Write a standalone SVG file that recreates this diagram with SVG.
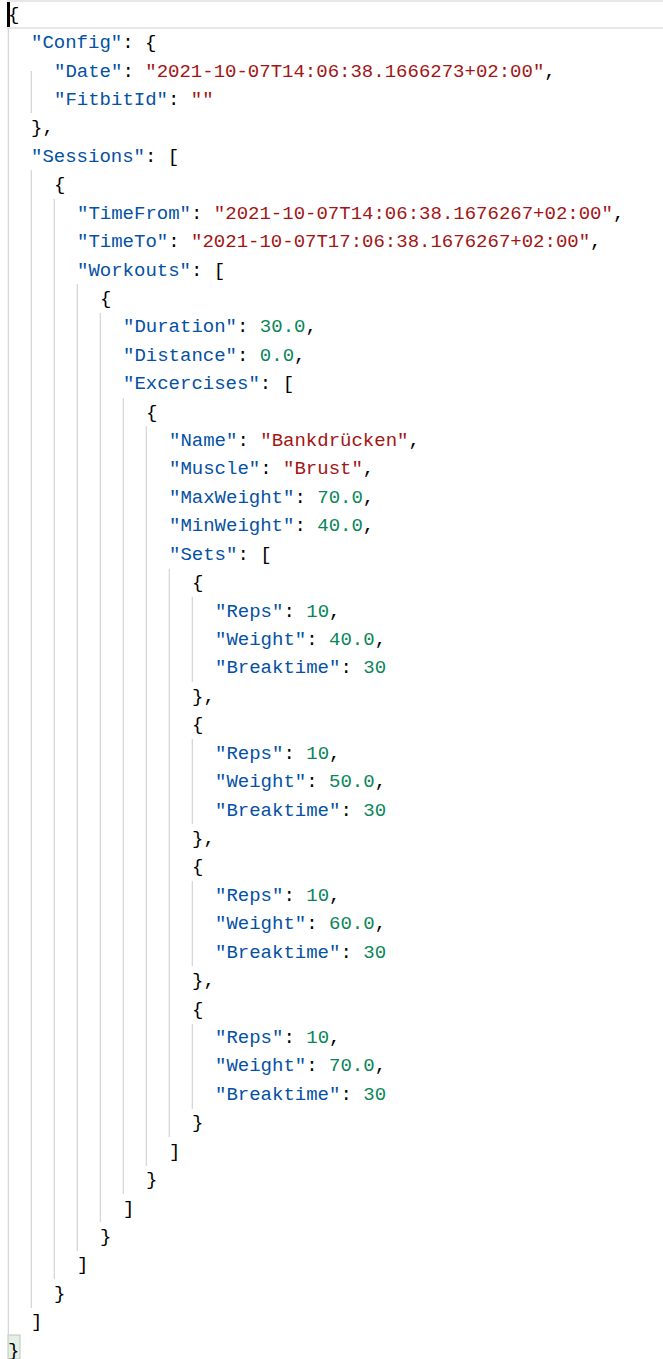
<svg xmlns="http://www.w3.org/2000/svg" width="663" height="1359" viewBox="0 0 663 1359">
<style>
text{font-family:"Liberation Mono","DejaVu Sans Mono",monospace;font-size:19px;fill:#000;white-space:pre}
.k{fill:#0451a5}.s{fill:#a31515}.n{fill:#098658}
.g{stroke:#d3d3d3;stroke-width:1.2}
</style>
<rect width="663" height="1359" fill="#fff"/>
<rect x="8" y="1" width="660" height="27" fill="none" stroke="#e8e8e8" stroke-width="2"/>
<rect x="8" y="1335" width="12" height="24" fill="#e6efe6" stroke="#b9c7b9" stroke-width="1"/>
<g id="guides">
<line class="g" x1="8.3" y1="28" x2="8.3" y2="1336"/>
<line class="g" x1="31.3" y1="71" x2="31.3" y2="113"/>
<line class="g" x1="31.3" y1="170" x2="31.3" y2="1308"/>
<line class="g" x1="54.3" y1="199" x2="54.3" y2="1279"/>
<line class="g" x1="77.3" y1="284" x2="77.3" y2="1251"/>
<line class="g" x1="100.3" y1="313" x2="100.3" y2="1222"/>
<line class="g" x1="123.3" y1="398" x2="123.3" y2="1194"/>
<line class="g" x1="146.3" y1="426" x2="146.3" y2="1166"/>
<line class="g" x1="169.3" y1="569" x2="169.3" y2="1137"/>
<line class="g" x1="192.3" y1="597" x2="192.3" y2="682"/>
<line class="g" x1="192.3" y1="739" x2="192.3" y2="824"/>
<line class="g" x1="192.3" y1="881" x2="192.3" y2="966"/>
<line class="g" x1="192.3" y1="1024" x2="192.3" y2="1109"/>
</g>
<rect x="7" y="2" width="3" height="25" fill="#000"/>
<g id="code" xml:space="preserve">
<text x="8" y="20">{</text>
<text x="31" y="48"><tspan class="k">"Config"</tspan>: {</text>
<text x="54" y="77"><tspan class="k">"Date"</tspan>: <tspan class="s">"2021-10-07T14:06:38.1666273+02:00"</tspan>,</text>
<text x="54" y="105"><tspan class="k">"FitbitId"</tspan>: <tspan class="s">""</tspan></text>
<text x="31" y="133">},</text>
<text x="31" y="162"><tspan class="k">"Sessions"</tspan>: [</text>
<text x="54" y="190">{</text>
<text x="77" y="219"><tspan class="k">"TimeFrom"</tspan>: <tspan class="s">"2021-10-07T14:06:38.1676267+02:00"</tspan>,</text>
<text x="77" y="247"><tspan class="k">"TimeTo"</tspan>: <tspan class="s">"2021-10-07T17:06:38.1676267+02:00"</tspan>,</text>
<text x="77" y="276"><tspan class="k">"Workouts"</tspan>: [</text>
<text x="100" y="304">{</text>
<text x="123" y="332"><tspan class="k">"Duration"</tspan>: <tspan class="n">30.0</tspan>,</text>
<text x="123" y="361"><tspan class="k">"Distance"</tspan>: <tspan class="n">0.0</tspan>,</text>
<text x="123" y="389"><tspan class="k">"Excercises"</tspan>: [</text>
<text x="146" y="418">{</text>
<text x="169" y="446"><tspan class="k">"Name"</tspan>: <tspan class="s">"Bankdrücken"</tspan>,</text>
<text x="169" y="474"><tspan class="k">"Muscle"</tspan>: <tspan class="s">"Brust"</tspan>,</text>
<text x="169" y="503"><tspan class="k">"MaxWeight"</tspan>: <tspan class="n">70.0</tspan>,</text>
<text x="169" y="531"><tspan class="k">"MinWeight"</tspan>: <tspan class="n">40.0</tspan>,</text>
<text x="169" y="560"><tspan class="k">"Sets"</tspan>: [</text>
<text x="192" y="588">{</text>
<text x="215" y="617"><tspan class="k">"Reps"</tspan>: <tspan class="n">10</tspan>,</text>
<text x="215" y="645"><tspan class="k">"Weight"</tspan>: <tspan class="n">40.0</tspan>,</text>
<text x="215" y="673"><tspan class="k">"Breaktime"</tspan>: <tspan class="n">30</tspan></text>
<text x="192" y="702">},</text>
<text x="192" y="730">{</text>
<text x="215" y="759"><tspan class="k">"Reps"</tspan>: <tspan class="n">10</tspan>,</text>
<text x="215" y="787"><tspan class="k">"Weight"</tspan>: <tspan class="n">50.0</tspan>,</text>
<text x="215" y="816"><tspan class="k">"Breaktime"</tspan>: <tspan class="n">30</tspan></text>
<text x="192" y="844">},</text>
<text x="192" y="872">{</text>
<text x="215" y="901"><tspan class="k">"Reps"</tspan>: <tspan class="n">10</tspan>,</text>
<text x="215" y="929"><tspan class="k">"Weight"</tspan>: <tspan class="n">60.0</tspan>,</text>
<text x="215" y="958"><tspan class="k">"Breaktime"</tspan>: <tspan class="n">30</tspan></text>
<text x="192" y="986">},</text>
<text x="192" y="1015">{</text>
<text x="215" y="1043"><tspan class="k">"Reps"</tspan>: <tspan class="n">10</tspan>,</text>
<text x="215" y="1071"><tspan class="k">"Weight"</tspan>: <tspan class="n">70.0</tspan>,</text>
<text x="215" y="1100"><tspan class="k">"Breaktime"</tspan>: <tspan class="n">30</tspan></text>
<text x="192" y="1128">}</text>
<text x="169" y="1157">]</text>
<text x="146" y="1185">}</text>
<text x="123" y="1214">]</text>
<text x="100" y="1242">}</text>
<text x="77" y="1270">]</text>
<text x="54" y="1299">}</text>
<text x="31" y="1327">]</text>
<text x="8" y="1356">}</text>
</g>
</svg>
